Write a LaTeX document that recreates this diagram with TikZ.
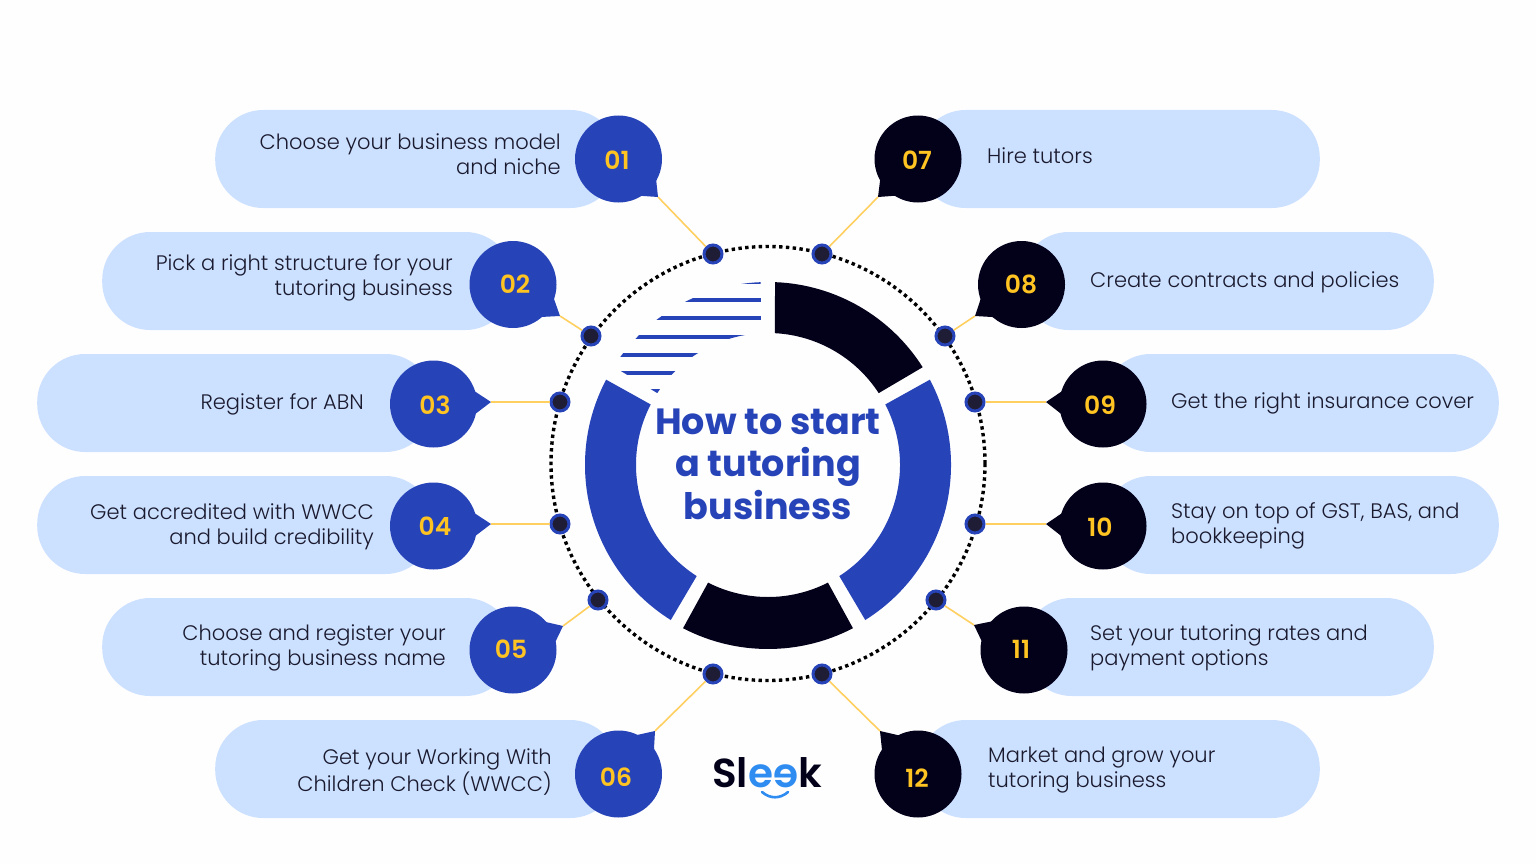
\documentclass[tikz,border=0pt]{standalone}
\usepackage{fontspec}
\usepackage{graphicx}
\setmainfont{Poppins}
\newfontfamily\lightf{Poppins Light}
\newfontfamily\semif{Poppins SemiBold}
\usetikzlibrary{calc}
\definecolor{pillc}{HTML}{CCE0FF}
\definecolor{bluec}{HTML}{2743B8}
\definecolor{darkc}{HTML}{03001A}
\definecolor{yelc}{HTML}{FFC421}
\definecolor{linec}{HTML}{FFD060}
\definecolor{dotc}{HTML}{1F1D36}
\definecolor{txtc}{HTML}{1A1A2E}
\definecolor{logob}{HTML}{2F8CF0}
\tikzset{
 pill/.style={fill=pillc,rounded corners=48pt,inner sep=0pt,minimum height=98pt},
 bubble/.style={circle,inner sep=0pt,minimum size=87pt},
 num/.style={font=\fontsize{25}{25}\semif,text=yelc,inner sep=0pt},
 label/.style={font=\fontsize{21}{25}\lightf,text=txtc,inner sep=0pt},
 rlabel/.style={label,anchor=east,align=right},
 llabel/.style={label,anchor=west,align=left},
 dotnode/.style={circle,fill=dotc,draw=bluec,line width=3pt,inner sep=0pt,minimum size=18pt},
 conn/.style={draw=linec,line width=1.6pt},
}
% #1 index, #2 cx, #3 cy, #4 tip x, #5 tip y, #6 colour
\newcommand{\bub}[6]{%
 \coordinate (c#1) at (#2,#3);
 \coordinate (tip#1) at (#4,#5);
 \fill[#6] ($(c#1)!42pt!17:(tip#1)$) -- (tip#1) -- ($(c#1)!42pt!-17:(tip#1)$) -- cycle;
 \node[bubble,fill=#6] (b#1) at (c#1) {};
}
\begin{document}
\begin{tikzpicture}[x=1pt,y=1pt,yscale=-1]
\useasboundingbox (0,0) rectangle (1536,864);
\fill[white!98!pillc] (0,0) rectangle (1536,864);
% pills
\node[pill,minimum width=403pt,anchor=west] (p1) at (215,159) {};
\node[pill,minimum width=411pt,anchor=west] (p2) at (102,281) {};
\node[pill,minimum width=396pt,anchor=west] (p3) at (37,403) {};
\node[pill,minimum width=396pt,anchor=west] (p4) at (37,525) {};
\node[pill,minimum width=411pt,anchor=west] (p5) at (102,647) {};
\node[pill,minimum width=403pt,anchor=west] (p6) at (215,769) {};
\node[pill,minimum width=402pt,anchor=east] (p7) at (1320,159) {};
\node[pill,minimum width=413pt,anchor=east] (p8) at (1434,281) {};
\node[pill,minimum width=396pt,anchor=east] (p9) at (1499,403) {};
\node[pill,minimum width=396pt,anchor=east] (p10) at (1499,525) {};
\node[pill,minimum width=410pt,anchor=east] (p11) at (1434,647) {};
\node[pill,minimum width=402pt,anchor=east] (p12) at (1320,769) {};
% dotted ring
\node[circle,minimum size=434pt,inner sep=0pt,outer sep=0pt,draw=black,line width=3.4pt,dash pattern=on 3.4pt off 3.4pt] (ring) at (768,463.5) {};
% dots
\node[dotnode] (d1) at (713,254) {};
\node[dotnode] (d2) at (591,336) {};
\node[dotnode] (d3) at (560,402) {};
\node[dotnode] (d4) at (560,524) {};
\node[dotnode] (d5) at (598,600) {};
\node[dotnode] (d6) at (713,674) {};
\node[dotnode] (d7) at (822,254) {};
\node[dotnode] (d8) at (945,336) {};
\node[dotnode] (d9) at (975,402) {};
\node[dotnode] (d10) at (975,524) {};
\node[dotnode] (d11) at (936,600) {};
\node[dotnode] (d12) at (822,674) {};
% bubbles
\bub{1}{618.5}{159}{658}{197}{bluec}
\bub{2}{513}{284.5}{560}{316}{bluec}
\bub{3}{433.5}{404}{491}{402}{bluec}
\bub{4}{433.5}{526}{491}{524}{bluec}
\bub{5}{513}{650}{563}{626}{bluec}
\bub{6}{618.5}{774}{655}{731}{bluec}
\bub{7}{918}{159}{878}{197}{darkc}
\bub{8}{1021.5}{284.5}{975}{316}{darkc}
\bub{9}{1103}{404}{1046}{402}{darkc}
\bub{10}{1103}{526}{1046}{524}{darkc}
\bub{11}{1024}{650}{974}{625}{darkc}
\bub{12}{918}{774}{880}{731}{darkc}
% connectors
\foreach \i in {1,...,12}{\draw[conn] (tip\i) -- (d\i);}
% numbers
\node[num] (n1) at (617,160) {01};
\node[num] (n2) at (515,284) {02};
\node[num] (n3) at (435,405) {03};
\node[num] (n4) at (435,526) {04};
\node[num] (n5) at (511,649) {05};
\node[num] (n6) at (616,777) {06};
\node[num] (n7) at (917,160) {07};
\node[num] (n8) at (1021,284) {08};
\node[num] (n9) at (1100,405) {09};
\node[num] (n10) at (1100,527) {10};
\node[num] (n11) at (1021,649) {11};
\node[num] (n12) at (917,778) {12};
% labels
\node[rlabel] (t1) at (561,154) {Choose your business model\\and niche};
\node[rlabel] (t2) at (453,278) {Pick a right structure for your\\tutoring business};
\node[rlabel] (t3) at (364,404) {Register for ABN};
\node[rlabel] (t4) at (374,527) {Get accredited with WWCC\\and build credibility};
\node[rlabel] (t5) at (446,648) {Choose and register your\\tutoring business name};
\node[rlabel] (t6) at (552,772) {Get your Working With\\Children Check (WWCC)};
\node[llabel] (t7) at (987,156) {Hire tutors};
\node[llabel] (t8) at (1090,282) {Create contracts and policies};
\node[llabel] (t9) at (1171,403) {Get the right insurance cover};
\node[llabel] (t10) at (1171,526) {Stay on top of GST, BAS, and\\bookkeeping};
\node[llabel] (t11) at (1090,648) {Set your tutoring rates and\\payment options};
\node[llabel] (t12) at (988,770) {Market and grow your\\tutoring business};
% ring segments
\begin{scope}[shift={(768,465)}]
\fill[darkc] (-87.8:183pt) arc[start angle=-87.8,end angle=-32.3,radius=183pt] -- (-33:132pt) arc[start angle=-33,end angle=-87,radius=132pt] -- cycle;
\fill[bluec] (-27.8:183pt) arc[start angle=-27.8,end angle=57.9,radius=183pt] -- (57.3:132pt) arc[start angle=57.3,end angle=-27.3,radius=132pt] -- cycle;
\fill[darkc] (62.5:184pt) arc[start angle=62.5,end angle=117.5,radius=184pt] -- (117:132pt) arc[start angle=117,end angle=63,radius=132pt] -- cycle;
\fill[bluec] (122.1:183pt) arc[start angle=122.1,end angle=207.8,radius=183pt] -- (207.3:132pt) arc[start angle=207.3,end angle=122.7,radius=132pt] -- cycle;
\begin{scope}
\clip (-92.3:183pt) arc[start angle=-92.3,end angle=-147.5,radius=183pt] -- (-147:132pt) arc[start angle=-147,end angle=-93,radius=132pt] -- cycle;
\foreach \yy in {-183,-165,-147,-128,-110,-92,-74}{
 \fill[bluec] (-190,\yy-1.7) -- (0,\yy-1.7) -- (0,\yy+1.7) -- (-190,\yy+1.7) -- cycle;
}
\end{scope}
\end{scope}
% title
\node[font=\fontsize{36.5}{42.5}\selectfont\bfseries,text=bluec,align=center,inner sep=0pt] (title) at (768,464) {How to start\\a tutoring\\business};
% logo
\node[font=\fontsize{40.5}{40}\semif,text=darkc,inner sep=0pt,anchor=base west] (logo) at (712,787) {Sl\textcolor{logob}{e\reflectbox{e}}k};
\draw[logob,line width=2.6pt,line cap=round] (762,792) .. controls (770,799) and (780,799) .. (788,792);
\end{tikzpicture}
\end{document}
